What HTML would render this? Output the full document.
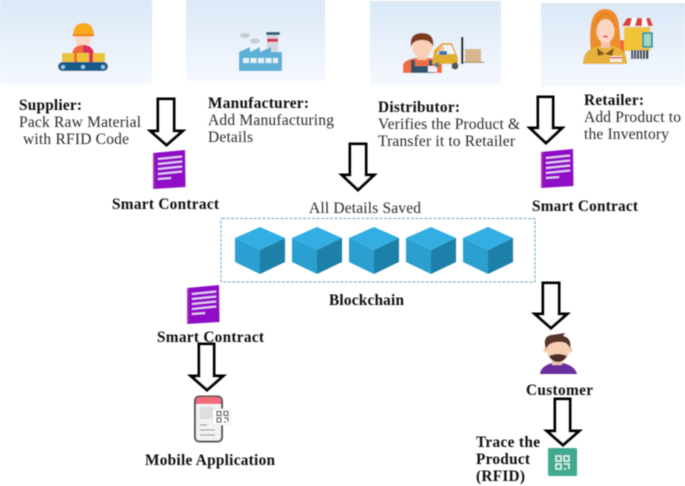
<!DOCTYPE html>
<html>
<head>
<meta charset="utf-8">
<style>
html,body{margin:0;padding:0;background:#fff;width:685px;height:486px;overflow:hidden}
svg{display:block}
text{font-family:"Liberation Serif",serif;font-size:15.5px;fill:#2a2a2a}
.b{font-weight:bold;fill:#111;font-size:15.3px}
.ar{fill:#fff;stroke:#000;stroke-width:3;stroke-linejoin:miter}
</style>
</head>
<body>
<svg width="685" height="486" viewBox="0 0 685 486" xmlns="http://www.w3.org/2000/svg">
<defs>
<linearGradient id="g" x1="0" y1="0" x2="0" y2="1"><stop offset="0" stop-color="#dae8f7"/><stop offset="1" stop-color="#f5f9fe"/></linearGradient>
<filter id="bl" x="-5%" y="-5%" width="110%" height="110%"><feGaussianBlur stdDeviation="0.45"/></filter>
<g id="doc"><path d="M0 3L32 0L32.500 37L0 39Z" fill="#9010c8"/><path d="M0 3L1.500 3L1.500 39L0 39Z" fill="#a93bb0"/>
<g stroke="#ecd4f8" stroke-width="1.700"><path d="M5 9L29 6.500M5 14L29 11.500M5 19L29 16.500M5 24L29 21.500M5 29L18 28"/></g></g>
<g id="cube"><path d="M0 -25L25 -14L0 -2L-25 -14Z" fill="#32aee2"/><path d="M-25 -14L0 -2L0 22L-25 10Z" fill="#2b9fd0"/><path d="M25 -14L0 -2L0 22L25 10Z" fill="#1f80a8"/></g>
</defs>
<g filter="url(#bl)">
<rect x="0" y="0" width="152" height="85" fill="url(#g)"/>
<rect x="186" y="0" width="139" height="81" fill="url(#g)"/>
<rect x="370" y="1" width="131" height="84" fill="url(#g)"/>
<rect x="541" y="3" width="144" height="84" fill="url(#g)"/>

<!-- supplier -->
<circle cx="83" cy="39" r="8" fill="#fbd8c3"/>
<path d="M72 62V54Q73 45 83 45Q93 45 94 54V62Z" fill="#ee6a3a"/><path d="M83 45Q93 45 94 54V62H83Z" fill="#df2f5e"/>
<path d="M73 34Q74 23 83.500 23Q93 23 94 34Z" fill="#f9a91e"/><rect x="72.500" y="34" width="21.500" height="2.500" fill="#f08a12"/>
<rect x="62" y="53" width="12" height="9" fill="#edc437"/><rect x="77" y="53" width="12" height="9" fill="#edc437"/><rect x="93" y="53" width="12" height="9" fill="#edc437"/>
<rect x="58" y="62" width="50" height="9" rx="4.500" fill="#155a8c"/>
<circle cx="63" cy="67" r="2" fill="#9cd"/><circle cx="83" cy="67" r="2" fill="#9cd"/><circle cx="103" cy="67" r="2" fill="#9cd"/>

<!-- factory -->
<ellipse cx="245" cy="35.500" rx="5" ry="2.500" fill="#c9ccd2"/><ellipse cx="255" cy="41" rx="5" ry="2.500" fill="#c9ccd2"/>
<rect x="267" y="34" width="11" height="20" fill="#d4d8dc"/><rect x="267" y="38.500" width="11" height="3.500" fill="#d83a55"/>
<rect x="266" y="32" width="14" height="3" rx="1.500" fill="#2c5f74"/>
<path d="M239 71V52L250 47V52L260 47V52L271 47V52H282V71Z" fill="#5cafd6"/>
<g fill="#e4f1f8"><rect x="243" y="58" width="6" height="5"/><rect x="250.500" y="58" width="6" height="5"/><rect x="258" y="58" width="6" height="5"/><rect x="265.500" y="58" width="6" height="5"/><rect x="273" y="58" width="5" height="5"/></g>

<!-- distributor -->
<path d="M403 73V65Q404 60 415 58H430Q441 60 442 65V73Z" fill="#ef6d3f"/>
<rect x="411" y="60" width="4" height="13" fill="#2f566e"/><rect x="429" y="60" width="4" height="13" fill="#2f566e"/><rect x="411" y="66" width="22" height="7" fill="#2f566e"/>
<rect x="428" y="66" width="9" height="6" fill="#f1f1f4"/>
<rect x="417" y="52" width="10" height="8" fill="#f4c5a8"/>
<ellipse cx="422" cy="46" rx="10" ry="12" fill="#fad1b8"/>
<path d="M411 47Q409 33 422 33Q435 33 433 47Q431 40 422 40Q413 40 411 47Z" fill="#7b3a1c"/>
<path d="M434 50L442 43H452L458 58V64H432Z" fill="#e3ad2f"/><path d="M437 54L443 45H451L455 54Z" fill="#f1f4f6"/>
<circle cx="442" cy="49" r="2.500" fill="#f0c6a6"/><rect x="439" y="51" width="8" height="4" fill="#3677b0"/>
<circle cx="455" cy="66" r="3.500" fill="#555"/><circle cx="437" cy="65" r="2.500" fill="#777"/>
<rect x="461" y="37" width="2.500" height="27" fill="#333"/>
<rect x="465" y="49" width="16" height="13" fill="#d7b88e"/><rect x="464" y="61.500" width="20" height="1.500" fill="#b89a70"/>

<!-- retailer -->
<rect x="619" y="40" width="6" height="20" fill="#ec6a3c"/>
<rect x="624" y="27" width="26" height="24" fill="#f3c439"/>
<rect x="642" y="32" width="11" height="16" fill="#3e9c96"/><rect x="644" y="34" width="7" height="12" fill="#9ed6cc"/>
<path d="M627 18H650L653 26H622Z" fill="#fff"/><path d="M627 18H632L630 26H622ZM637 18H642L642 26H635ZM646 18H650L653 26H648Z" fill="#d8423a"/>
<g fill="#3a4656"><rect x="631" y="50" width="17.500" height="9"/></g>
<g fill="#c9ced4"><rect x="633" y="50" width="1" height="9"/><rect x="636" y="50" width="1" height="9"/><rect x="639" y="50" width="1" height="9"/><rect x="642" y="50" width="1" height="9"/><rect x="645" y="50" width="1" height="9"/></g>
<path d="M591 52Q589 38 591 24Q594 9 605 9Q617 9 619 24Q621 38 620 52Z" fill="#ee8e2c"/>
<path d="M583 64Q583 50 596 47L605 44L616 47Q627 50 627 64Z" fill="#e8b13a"/>
<rect x="601" y="38" width="9" height="10" fill="#f2c5a8"/>
<ellipse cx="605.500" cy="31" rx="9" ry="12" fill="#fbd6c0"/>
<path d="M596 30Q598 17 605 14Q613 17 615 30Q617 18 605 12Q594 18 596 30Z" fill="#e57e22"/>
<ellipse cx="605.500" cy="36.500" rx="2.500" ry="1" fill="#d6516a"/>
<path d="M597 48L605 54L614 48L612 56L605 54L598 56Z" fill="#7a5a1c"/>
<rect x="610" y="56" width="12" height="6" fill="#f3eee0"/><rect x="610" y="57" width="12" height="1.500" fill="#e2573f"/>

<!-- docs -->
<use href="#doc" transform="translate(153,150)"/>
<use href="#doc" transform="translate(541,149)"/>
<use href="#doc" transform="translate(187,285)"/>

<!-- dashed box -->
<rect x="221" y="218.500" width="314" height="63.500" rx="1" fill="none" stroke="#6fa3c4" stroke-width="1" stroke-dasharray="3 1.500"/>
<use href="#cube" transform="translate(260,252)"/>
<use href="#cube" transform="translate(317,252)"/>
<use href="#cube" transform="translate(374,252)"/>
<use href="#cube" transform="translate(431,252)"/>
<use href="#cube" transform="translate(488,252)"/>

<!-- arrows -->
<path class="ar" d="M158 99H174V131H182.500L166.500 145L150.500 131H158Z"/>
<path class="ar" d="M350 144H366V175H374L358 190L342 175H350Z"/>
<path class="ar" d="M538 97H553V128H562L546 143L530 128H538Z"/>
<path class="ar" d="M543 283H559V314H567L551 328L535 314H543Z"/>
<path class="ar" d="M555 399H570V431H579L563 445L547 431H555Z"/>
<path class="ar" d="M199 344H214V376H223L207 390L191 376H199Z"/>

<!-- customer -->
<path d="M540 374Q541 366 552 363L557 365L563 363Q575 366 577 374Z" fill="#6b2f9e"/>
<rect x="552" y="357" width="10" height="8" fill="#f2c5a8"/>
<circle cx="546" cy="350" r="2.500" fill="#f4c8aa"/><circle cx="570" cy="350" r="2.500" fill="#f4c8aa"/>
<ellipse cx="558" cy="349" rx="11.500" ry="13" fill="#f7cfb4"/>
<path d="M546 349Q542 336 552 335L565 333L563 336Q572 338 570 349Q568 341 558 342Q549 342 546 349Z" fill="#54342a"/>
<path d="M549 356Q558 352 567 356Q564 362 558 362Q552 362 549 356Z" fill="#4c2f26"/>

<!-- phone -->
<rect x="195" y="396.500" width="27" height="45" rx="4" fill="#f2f2f4" stroke="#555" stroke-width="2"/>
<path d="M196 402Q196 397 200 397H217Q221 397 221 402V404H196Z" fill="#f46a7e"/>
<rect x="200" y="407" width="14" height="12" fill="#dcdde0"/>
<g stroke="#8a8a8a" stroke-width="1"><path d="M200 425H207M200 430H215M200 435H215"/></g>
<rect x="213" y="409" width="18" height="16" fill="#fff" stroke="#e2e2e2" stroke-width="0.600"/>
<g fill="none" stroke="#444" stroke-width="1.200"><rect x="217" y="411.500" width="4" height="4"/><rect x="224" y="411.500" width="4" height="4"/><rect x="217" y="418" width="4" height="4"/><path d="M224 418H228V422M224 422H226"/></g>

<!-- QR -->
<rect x="548" y="448" width="29" height="28" rx="1.500" fill="#3fa98f"/>
<g fill="none" stroke="#e8f5f0" stroke-width="1.500"><rect x="556" y="456" width="5" height="5"/><rect x="564" y="456" width="5" height="5"/><rect x="556" y="464" width="5" height="5"/><path d="M564 464H569V469M564 469H566"/></g>

<!-- text -->
<text class="b" x="19" y="110" textLength="63" lengthAdjust="spacing">Supplier:</text>
<text x="19" y="127" textLength="122" lengthAdjust="spacing">Pack Raw Material</text>
<text x="23" y="144" textLength="106" lengthAdjust="spacing">with RFID Code</text>
<text class="b" x="208" y="108" textLength="101" lengthAdjust="spacing">Manufacturer:</text>
<text x="208" y="125" textLength="126" lengthAdjust="spacing">Add Manufacturing</text>
<text x="208" y="142" textLength="45" lengthAdjust="spacing">Details</text>
<text class="b" x="378" y="112" textLength="82" lengthAdjust="spacing">Distributor:</text>
<text x="378" y="129" textLength="142" lengthAdjust="spacing">Verifies the Product &amp;</text>
<text x="378" y="146" textLength="137" lengthAdjust="spacing">Transfer it to Retailer</text>
<text class="b" x="584" y="105" textLength="60" lengthAdjust="spacing">Retailer:</text>
<text x="584" y="122" textLength="97" lengthAdjust="spacing">Add Product to</text>
<text x="584" y="139" textLength="85" lengthAdjust="spacing">the Inventory</text>
<text class="b" x="112" y="209" textLength="107" lengthAdjust="spacing">Smart Contract</text>
<text class="b" x="532" y="211" textLength="106" lengthAdjust="spacing">Smart Contract</text>
<text class="b" x="157" y="342" textLength="107" lengthAdjust="spacing">Smart Contract</text>
<text x="309" y="213" textLength="112" lengthAdjust="spacing">All Details Saved</text>
<text class="b" x="329" y="305" textLength="75" lengthAdjust="spacing">Blockchain</text>
<text class="b" x="145" y="465" textLength="130" lengthAdjust="spacing">Mobile Application</text>
<text class="b" x="526" y="395" textLength="67" lengthAdjust="spacing">Customer</text>
<text class="b" x="476" y="447" textLength="64" lengthAdjust="spacing">Trace the</text>
<text class="b" x="476" y="464" textLength="54" lengthAdjust="spacing">Product</text>
<text class="b" x="476" y="481" textLength="49" lengthAdjust="spacing">(RFID)</text>
</g>
</svg>
</body>
</html>
